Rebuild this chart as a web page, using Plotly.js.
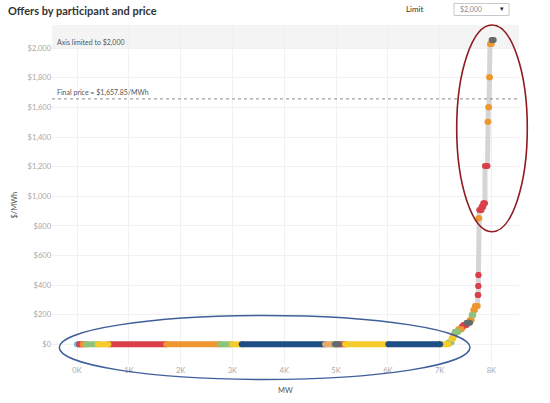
<!DOCTYPE html>
<html>
<head>
<meta charset="utf-8">
<script src="https://cdn.plot.ly/plotly-3.0.1.min.js"></script>
<style>
  html, body { margin: 0; padding: 0; background: #fff; }
  #chart { width: 550px; height: 403px; }
</style>
</head>
<body>
<div id="chart"></div>
<script>
// ── data: offer tranches in merit order ──────────────────────────────────────
const offerMW = [40, 70, 65, 225, 205, 1120, 1035, 230, 190, 1610, 125, 65, 65, 130, 835, 1000, 160,
                 60, 35, 32, 64, 66, 31, 65, 64, 32, 32, 32, 52,
                 12, 2, 2,
                 15, 44, 33, 33, 49,
                 15, 14, 19, 32, 40];
const offerPrice = [0, 0, 0, 0, 0, 0, 0, 0, 0, 0, 0, 0, 0, 0, 0, 0, 0,
                    12, 40, 63, 85, 101, 119, 130, 146, 164, 198, 232, 259,
                    333, 394, 468,
                    851, 907, 930, 953, 1205,
                    1504, 1601, 1804, 2029, 2055];
const offerParticipant = ['A', 'B', 'C', 'D', 'E', 'B', 'C', 'D', 'E', 'F', 'G', 'D', 'H', 'B', 'E', 'F', 'E',
                          'D', 'E', 'C', 'D', 'C', 'B', 'B', 'H', 'C', 'D', 'C', 'C',
                          'B', 'B', 'B',
                          'C', 'B', 'B', 'B', 'B',
                          'C', 'C', 'C', 'C', 'H'];

const participants = ['A', 'B', 'C', 'D', 'E', 'F', 'G', 'H'];
const participantColors = ['#5cc1e6', '#d9404a', '#ef9630', '#8fc27a', '#f5cc2b', '#1d4e85', '#e6a96c', '#636b6c'];

const finalPrice = 1657.85;
const axisLimit = 2000;
const xTickVals = [0, 1000, 2000, 3000, 4000, 5000, 6000, 7000, 8000];
const xTickLabels = ['0K', '1K', '2K', '3K', '4K', '5K', '6K', '7K', '8K'];

// ── layout helpers (pixel -> paper) ──────────────────────────────────────────
const W = 550, H = 403;
const M = { l: 52, r: 31, t: 25, b: 39 };
function px(x) { return (x - M.l) / (W - M.l - M.r); }
function py(y) { return (H - M.b - y) / (H - M.t - M.b); }

// cumulative start / end of each tranche
const starts = [], ends = [];
let run = 0;
offerMW.forEach(function (q) { starts.push(run); run += q; ends.push(run); });

// grey supply step line
const stepX = [], stepY = [];
offerMW.forEach(function (q, i) {
  stepX.push(starts[i], ends[i]);
  stepY.push(offerPrice[i], offerPrice[i]);
});

const traces = [{
  x: stepX, y: stepY, type: 'scatter', mode: 'lines',
  line: { color: '#d5d5d5', width: 5 }, hoverinfo: 'skip', showlegend: false,
}];

participants.forEach(function (p, k) {
  const x = [], y = [];
  offerParticipant.forEach(function (who, i) {
    if (who !== p) return;
    x.push(starts[i], ends[i], null);
    y.push(offerPrice[i], offerPrice[i], null);
  });
  traces.push({
    x, y, type: 'scatter', mode: 'lines+markers', name: 'Participant ' + p,
    line: { color: participantColors[k], width: 6 },
    marker: { color: participantColors[k], size: 6 },
    connectgaps: false, hoverinfo: 'skip', showlegend: false,
  });
});

const tickFont = { family: 'Lato, sans-serif', size: 7.5, color: '#a8a8a8' };
const noteFont = { family: 'Lato, sans-serif', size: 7, color: '#555' };

const layout = {
  width: W, height: H,
  margin: M,
  paper_bgcolor: '#fff', plot_bgcolor: '#fff',
  showlegend: false,
  title: {
    text: '<b>Offers by participant and price</b>',
    font: { family: 'Lato, sans-serif', size: 11, color: '#333' },
    x: 8 / W, xanchor: 'left', xref: 'container',
    y: 1 - 11 / H, yanchor: 'middle', yref: 'container',
  },
  xaxis: {
    range: [-483, 8533], tickvals: xTickVals, ticktext: xTickLabels,
    showgrid: true, gridcolor: '#f1f1f1', gridwidth: 1, zeroline: false,
    showline: false, ticks: '', tickfont: tickFont, fixedrange: true,
  },
  yaxis: {
    range: [-133, 2157], tick0: 0, dtick: 200, tickprefix: '$', tickformat: ',',
    showgrid: true, gridcolor: '#f1f1f1', gridwidth: 1, zeroline: false,
    showline: false, ticks: '', tickfont: tickFont, fixedrange: true,
  },
  shapes: [
    { type: 'rect', xref: 'paper', yref: 'y', x0: 0, x1: 1, y0: axisLimit, y1: 2157,
      fillcolor: '#f4f4f4', line: { width: 0 }, layer: 'below' },
    { type: 'line', xref: 'paper', yref: 'y', x0: 0, x1: 1, y0: finalPrice, y1: finalPrice,
      line: { color: '#8a8a8a', width: 1, dash: 'dot' } },
    // highlight rings
    { type: 'circle', xref: 'paper', yref: 'paper', x0: px(456.7), x1: px(527.3), y0: py(231.7), y1: py(25),
      line: { color: '#8e1b1e', width: 1.6 } },
    { type: 'circle', xref: 'paper', yref: 'paper', x0: px(59.3), x1: px(470), y0: py(379.5), y1: py(315.5),
      line: { color: '#3f5f9a', width: 1.5 } },
    // limit dropdown box
    { type: 'rect', xref: 'paper', yref: 'paper', x0: px(454), x1: px(509), y0: py(15.5), y1: py(3.5),
      fillcolor: '#fff', line: { color: '#c8c8c8', width: 1 } },
  ],
  annotations: [
    { text: 'Axis limited to $2,000', xref: 'paper', yref: 'paper', x: px(55), y: py(42),
      xanchor: 'left', yanchor: 'middle', showarrow: false, font: noteFont },
    { text: 'Final price = $1,657.85/MWh', xref: 'paper', yref: 'paper', x: px(55), y: py(92.5),
      xanchor: 'left', yanchor: 'middle', showarrow: false, font: noteFont },
    { text: '$/MWh', xref: 'paper', yref: 'paper', x: px(14.5), y: py(205), textangle: -90,
      xanchor: 'center', yanchor: 'middle', showarrow: false,
      font: { family: 'Lato, sans-serif', size: 7.5, color: '#555' } },
    { text: 'MW', xref: 'paper', yref: 'paper', x: px(285.5), y: py(391),
      xanchor: 'center', yanchor: 'middle', showarrow: false,
      font: { family: 'Lato, sans-serif', size: 7.5, color: '#555' } },
    { text: 'Limit', xref: 'paper', yref: 'paper', x: px(415), y: py(9.5),
      xanchor: 'center', yanchor: 'middle', showarrow: false,
      font: { family: 'Lato, sans-serif', size: 8, color: '#333' } },
    { text: '$2,000', xref: 'paper', yref: 'paper', x: px(457.5), y: py(9.5),
      xanchor: 'left', yanchor: 'middle', showarrow: false,
      font: { family: 'Lato, sans-serif', size: 7, color: '#8a8a8a' } },
    { text: '▾', xref: 'paper', yref: 'paper', x: px(502), y: py(9.5),
      xanchor: 'center', yanchor: 'middle', showarrow: false,
      font: { family: 'DejaVu Sans, sans-serif', size: 7, color: '#222' } },
  ],
};

Plotly.newPlot('chart', traces, layout, { staticPlot: true, displayModeBar: false });
</script>
</body>
</html>
